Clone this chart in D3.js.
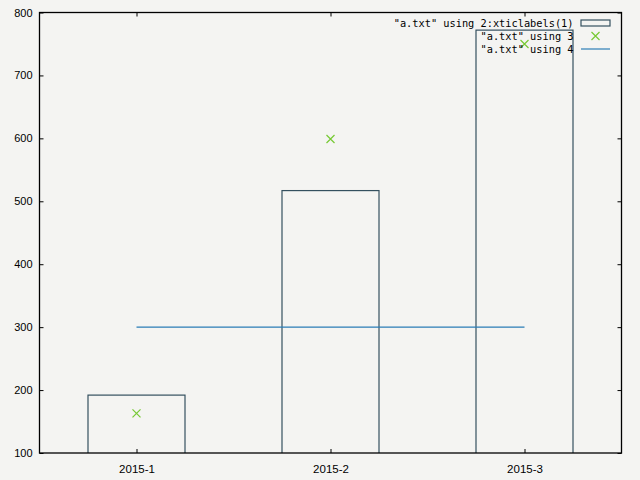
<!DOCTYPE html>
<html><head><meta charset="utf-8">
<script src="https://cdn.jsdelivr.net/npm/d3@7"></script>
<style>html,body{margin:0;padding:0;background:#f4f4f2;}</style>
</head><body>
<script>
const categories = ["2015-1", "2015-2", "2015-3"];
const barValues = [192, 517, 772];     // column 2 (boxes)
const pointValues = [163, 599, 750];   // column 3 (points)
const lineValues = [300, 300, 300];    // column 4 (line)
const yTicks = [100, 200, 300, 400, 500, 600, 700, 800];
const legendLabels = ['"a.txt" using 2:xticlabels(1)', '"a.txt" using 3', '"a.txt" using 4'];

const W = 640, H = 480;
const L = 39.5, R = 621.5, T = 12.5, B = 453;
const svg = d3.select("body").append("svg").attr("width", W).attr("height", H)
  .style("background", "#f4f4f2");

const x = d3.scaleLinear().domain([-0.5, 2.5]).range([L, R]);
const y = d3.scaleLinear().domain([100, 800]).range([B, T]);
const boxW = x(0.25) - x(-0.25);

const font = "'Liberation Sans', Arial, sans-serif";
const mono = "'DejaVu Sans Mono', 'Liberation Mono', monospace";

// axes (ticks inward, mirrored)
const axL = d3.axisLeft(y).tickValues(yTicks).tickSize(-4).tickPadding(7).tickFormat(d3.format("d"));
const axR = d3.axisRight(y).tickValues(yTicks).tickSize(-4).tickFormat("");
const xIdx = categories.map((c, i) => i);
const axB = d3.axisBottom(x).tickValues(xIdx).tickSize(-4).tickPadding(12).tickFormat(i => categories[i]);
const axT = d3.axisTop(x).tickValues(xIdx).tickSize(-4).tickFormat("");

function style(g, fs) {
  g.select(".domain").remove();
  g.selectAll(".tick line").attr("stroke", "#000").attr("stroke-width", 1);
  g.selectAll("text").attr("fill", "#000").style("font-family", font).style("font-size", fs);
}
svg.append("g").attr("transform", `translate(${L},0)`).call(axL).call(style, "11px");
svg.append("g").attr("transform", `translate(${R},0)`).call(axR).call(style, "11px");
svg.append("g").attr("transform", `translate(0,${B})`).call(axB).call(style, "11.5px");
svg.append("g").attr("transform", `translate(0,${T})`).call(axT).call(style, "11px");

// plot clip
svg.append("clipPath").attr("id", "clip").append("rect")
  .attr("x", L).attr("y", T).attr("width", R - L).attr("height", B - T);
const plot = svg.append("g").attr("clip-path", "url(#clip)");

const barColor = "#34505f", ptColor = "#76c934", lineColor = "#2a7db6";

// boxes
plot.selectAll("rect.bar").data(barValues).enter().append("rect")
  .attr("class", "bar")
  .attr("x", (d, i) => x(i) - boxW / 2)
  .attr("y", d => y(d))
  .attr("width", boxW)
  .attr("height", d => y(100) - y(d) + 2)
  .attr("fill", "none").attr("stroke", barColor).attr("stroke-width", 1.2);

// points
function cross(g, cx, cy, r) {
  g.append("path").attr("d", `M${cx - r},${cy - r}L${cx + r},${cy + r}M${cx - r},${cy + r}L${cx + r},${cy - r}`)
    .attr("stroke", ptColor).attr("stroke-width", 1.2).attr("fill", "none");
}
pointValues.forEach((d, i) => cross(plot, x(i), y(d), 4));

// line
const line = d3.line().x((d, i) => x(i)).y(d => y(d));
plot.append("path").datum(lineValues).attr("d", line)
  .attr("fill", "none").attr("stroke", lineColor).attr("stroke-width", 1.2);

// border
svg.append("rect").attr("x", L).attr("y", T).attr("width", R - L).attr("height", B - T)
  .attr("fill", "none").attr("stroke", "#000").attr("stroke-width", 1.3);

// legend
const lg = svg.append("g");
const rowsY = [23, 36, 49];
const textRight = 573.5, sx0 = 581, sx1 = 610;
legendLabels.forEach((t, i) => {
  lg.append("text").attr("x", textRight).attr("y", rowsY[i]).attr("dy", "0.35em")
    .attr("text-anchor", "end").style("font-family", mono).style("font-size", "10.3px")
    .attr("fill", "#000").text(t);
});
lg.append("rect").attr("x", sx0).attr("y", rowsY[0] - 3).attr("width", sx1 - sx0).attr("height", 6)
  .attr("fill", "none").attr("stroke", barColor).attr("stroke-width", 1.2);
cross(lg, (sx0 + sx1) / 2, rowsY[1], 4);
lg.append("line").attr("x1", sx0).attr("x2", sx1).attr("y1", rowsY[2]).attr("y2", rowsY[2])
  .attr("stroke", lineColor).attr("stroke-width", 1.2);
</script>
</body></html>
